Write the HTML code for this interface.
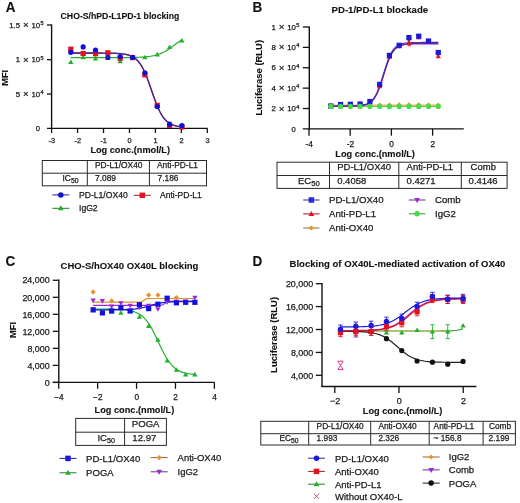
<!DOCTYPE html>
<html><head><meta charset="utf-8"><style>
html,body{margin:0;padding:0;background:#fff;}
svg{display:block;font-family:"Liberation Sans", sans-serif;will-change:transform;filter:blur(0.35px);}
</style></head><body>
<svg width="520" height="503" viewBox="0 0 520 503">
<rect width="520" height="503" fill="#fff"/>
<text x="0.00" y="0.00" font-size="13.5" font-weight="bold" text-anchor="start" fill="#111" stroke="#111" stroke-width="0.1" transform="translate(5.8 11.7) scale(1 1.08)">A</text>
<text x="60.60" y="19.30" font-size="8.7" font-weight="bold" text-anchor="start" fill="#111" stroke="#111" stroke-width="0.1" >CHO-S/hPD-L1PD-1 blocking</text>
<line x1="51.60" y1="24.40" x2="51.60" y2="129.00" stroke="#111" stroke-width="1.4" />
<line x1="47.00" y1="128.40" x2="207.60" y2="128.40" stroke="#111" stroke-width="1.4" />
<line x1="47.00" y1="25.00" x2="51.60" y2="25.00" stroke="#111" stroke-width="1.3" />
<text x="20.00" y="27.60" font-size="7.8" font-weight="normal" text-anchor="end" fill="#1a1a1a" stroke="#1a1a1a" stroke-width="0.25" >1.5</text>
<text x="25.90" y="27.90" font-size="9.75" font-weight="normal" text-anchor="middle" fill="#1a1a1a" stroke="#1a1a1a" stroke-width="0.25" >×</text>
<text x="40.10" y="27.60" font-size="7.8" font-weight="normal" text-anchor="end" fill="#1a1a1a" stroke="#1a1a1a" stroke-width="0.25" >10</text>
<text x="40.50" y="25.00" font-size="5.616" font-weight="normal" text-anchor="start" fill="#1a1a1a" stroke="#1a1a1a" stroke-width="0.25" >5</text>
<line x1="47.00" y1="59.70" x2="51.60" y2="59.70" stroke="#111" stroke-width="1.3" />
<text x="20.00" y="62.30" font-size="7.8" font-weight="normal" text-anchor="end" fill="#1a1a1a" stroke="#1a1a1a" stroke-width="0.25" >1</text>
<text x="25.90" y="62.60" font-size="9.75" font-weight="normal" text-anchor="middle" fill="#1a1a1a" stroke="#1a1a1a" stroke-width="0.25" >×</text>
<text x="40.10" y="62.30" font-size="7.8" font-weight="normal" text-anchor="end" fill="#1a1a1a" stroke="#1a1a1a" stroke-width="0.25" >10</text>
<text x="40.50" y="59.70" font-size="5.616" font-weight="normal" text-anchor="start" fill="#1a1a1a" stroke="#1a1a1a" stroke-width="0.25" >5</text>
<line x1="47.00" y1="94.05" x2="51.60" y2="94.05" stroke="#111" stroke-width="1.3" />
<text x="20.00" y="96.65" font-size="7.8" font-weight="normal" text-anchor="end" fill="#1a1a1a" stroke="#1a1a1a" stroke-width="0.25" >5</text>
<text x="25.90" y="96.95" font-size="9.75" font-weight="normal" text-anchor="middle" fill="#1a1a1a" stroke="#1a1a1a" stroke-width="0.25" >×</text>
<text x="40.10" y="96.65" font-size="7.8" font-weight="normal" text-anchor="end" fill="#1a1a1a" stroke="#1a1a1a" stroke-width="0.25" >10</text>
<text x="40.50" y="94.05" font-size="5.616" font-weight="normal" text-anchor="start" fill="#1a1a1a" stroke="#1a1a1a" stroke-width="0.25" >4</text>
<text x="40.00" y="131.00" font-size="7.6" font-weight="normal" text-anchor="end" fill="#1a1a1a" stroke="#1a1a1a" stroke-width="0.25" >0</text>
<line x1="51.60" y1="128.40" x2="51.60" y2="133.00" stroke="#111" stroke-width="1.3" />
<text x="51.80" y="143.00" font-size="7.4" font-weight="normal" text-anchor="middle" fill="#1a1a1a" stroke="#1a1a1a" stroke-width="0.25" >-3</text>
<line x1="77.55" y1="128.40" x2="77.55" y2="133.00" stroke="#111" stroke-width="1.3" />
<text x="77.75" y="143.00" font-size="7.4" font-weight="normal" text-anchor="middle" fill="#1a1a1a" stroke="#1a1a1a" stroke-width="0.25" >-2</text>
<line x1="103.50" y1="128.40" x2="103.50" y2="133.00" stroke="#111" stroke-width="1.3" />
<text x="103.70" y="143.00" font-size="7.4" font-weight="normal" text-anchor="middle" fill="#1a1a1a" stroke="#1a1a1a" stroke-width="0.25" >-1</text>
<line x1="129.45" y1="128.40" x2="129.45" y2="133.00" stroke="#111" stroke-width="1.3" />
<text x="129.65" y="143.00" font-size="7.4" font-weight="normal" text-anchor="middle" fill="#1a1a1a" stroke="#1a1a1a" stroke-width="0.25" >0</text>
<line x1="155.40" y1="128.40" x2="155.40" y2="133.00" stroke="#111" stroke-width="1.3" />
<text x="155.60" y="143.00" font-size="7.4" font-weight="normal" text-anchor="middle" fill="#1a1a1a" stroke="#1a1a1a" stroke-width="0.25" >1</text>
<line x1="181.35" y1="128.40" x2="181.35" y2="133.00" stroke="#111" stroke-width="1.3" />
<text x="181.55" y="143.00" font-size="7.4" font-weight="normal" text-anchor="middle" fill="#1a1a1a" stroke="#1a1a1a" stroke-width="0.25" >2</text>
<line x1="207.30" y1="128.40" x2="207.30" y2="133.00" stroke="#111" stroke-width="1.3" />
<text x="207.50" y="143.00" font-size="7.4" font-weight="normal" text-anchor="middle" fill="#1a1a1a" stroke="#1a1a1a" stroke-width="0.25" >3</text>
<text x="130.20" y="153.40" font-size="9.2" font-weight="bold" text-anchor="middle" fill="#111" stroke="#111" stroke-width="0.1" >Log conc.(nmol/L)</text>
<text x="0.00" y="0.00" font-size="9.3" font-weight="bold" text-anchor="middle" fill="#111" stroke="#111" stroke-width="0.1" transform="translate(7.8 77.85) rotate(-90)">MFI</text>
<path d="M70.80 57.70 L72.65 57.70 L74.50 57.70 L76.36 57.70 L78.21 57.70 L80.06 57.70 L81.91 57.70 L83.77 57.70 L85.62 57.70 L87.47 57.70 L89.32 57.70 L91.18 57.70 L93.03 57.70 L94.88 57.70 L96.73 57.70 L98.59 57.70 L100.44 57.70 L102.29 57.69 L104.14 57.69 L106.00 57.69 L107.85 57.69 L109.70 57.69 L111.55 57.68 L113.41 57.68 L115.26 57.67 L117.11 57.67 L118.96 57.66 L120.82 57.65 L122.67 57.64 L124.52 57.62 L126.38 57.60 L128.23 57.58 L130.08 57.55 L131.93 57.52 L133.78 57.47 L135.64 57.42 L137.49 57.36 L139.34 57.27 L141.19 57.18 L143.05 57.05 L144.90 56.90 L146.75 56.72 L148.60 56.50 L150.46 56.23 L152.31 55.90 L154.16 55.51 L156.01 55.05 L157.87 54.49 L159.72 53.84 L161.57 53.08 L163.43 52.22 L165.28 51.23 L167.13 50.14 L168.98 48.95 L170.83 47.67 L172.69 46.32 L174.54 44.94 L176.39 43.56 L178.25 42.20 L180.10 40.89 L181.95 39.66" stroke="#22b02a" stroke-width="1.2" fill="none" />
<path d="M70.80 53.20 L72.65 53.20 L74.50 53.20 L76.36 53.20 L78.21 53.20 L80.06 53.20 L81.91 53.20 L83.77 53.20 L85.62 53.20 L87.47 53.20 L89.32 53.20 L91.18 53.21 L93.03 53.21 L94.88 53.21 L96.73 53.21 L98.59 53.22 L100.44 53.22 L102.29 53.23 L104.14 53.24 L106.00 53.26 L107.85 53.28 L109.70 53.30 L111.55 53.34 L113.41 53.38 L115.26 53.45 L117.11 53.53 L118.96 53.64 L120.82 53.79 L122.67 53.98 L124.52 54.24 L126.38 54.59 L128.23 55.05 L130.08 55.65 L131.93 56.44 L133.78 57.47 L135.64 58.81 L137.49 60.51 L139.34 62.67 L141.19 65.35 L143.05 68.60 L144.90 72.45 L146.75 76.89 L148.60 81.81 L150.46 87.07 L152.31 92.47 L154.16 97.79 L156.01 102.80 L157.87 107.36 L159.72 111.35 L161.57 114.75 L163.43 117.55 L165.28 119.82 L167.13 121.63 L168.98 123.04 L170.83 124.14 L172.69 124.98 L174.54 125.63 L176.39 126.11 L178.25 126.48 L180.10 126.76 L181.95 126.97" stroke="#e8101c" stroke-width="1.2" fill="none" />
<path d="M70.80 53.00 L72.65 53.00 L74.50 53.00 L76.36 53.00 L78.21 53.00 L80.06 53.00 L81.91 53.00 L83.77 53.00 L85.62 53.00 L87.47 53.00 L89.32 53.00 L91.18 53.01 L93.03 53.01 L94.88 53.01 L96.73 53.01 L98.59 53.02 L100.44 53.02 L102.29 53.03 L104.14 53.04 L106.00 53.06 L107.85 53.08 L109.70 53.11 L111.55 53.14 L113.41 53.19 L115.26 53.25 L117.11 53.34 L118.96 53.45 L120.82 53.60 L122.67 53.81 L124.52 54.07 L126.38 54.43 L128.23 54.90 L130.08 55.52 L131.93 56.34 L133.78 57.40 L135.64 58.76 L137.49 60.51 L139.34 62.72 L141.19 65.45 L143.05 68.77 L144.90 72.68 L146.75 77.16 L148.60 82.12 L150.46 87.41 L152.31 92.80 L154.16 98.08 L156.01 103.05 L157.87 107.55 L159.72 111.47 L161.57 114.79 L163.43 117.54 L165.28 119.75 L167.13 121.51 L168.98 122.88 L170.83 123.95 L172.69 124.77 L174.54 125.39 L176.39 125.86 L178.25 126.22 L180.10 126.49 L181.95 126.69" stroke="#3a2a9a" stroke-width="1.3" fill="none" />
<path d="M70.80 59.56 L73.44 64.12 L68.16 64.12Z" fill="#22b02a"/>
<path d="M83.15 54.76 L85.79 59.32 L80.51 59.32Z" fill="#22b02a"/>
<path d="M95.50 56.06 L98.14 60.62 L92.86 60.62Z" fill="#22b02a"/>
<path d="M107.85 55.46 L110.49 60.02 L105.21 60.02Z" fill="#22b02a"/>
<path d="M120.20 58.76 L122.84 63.32 L117.56 63.32Z" fill="#22b02a"/>
<path d="M132.55 54.76 L135.19 59.32 L129.91 59.32Z" fill="#22b02a"/>
<path d="M144.90 54.66 L147.54 59.22 L142.26 59.22Z" fill="#22b02a"/>
<path d="M157.25 51.86 L159.89 56.42 L154.61 56.42Z" fill="#22b02a"/>
<path d="M169.60 44.46 L172.24 49.02 L166.96 49.02Z" fill="#22b02a"/>
<path d="M181.95 38.06 L184.59 42.62 L179.31 42.62Z" fill="#22b02a"/>
<rect x="68.20" y="46.60" width="5.20" height="5.20" fill="#e8101c"/>
<rect x="80.55" y="50.90" width="5.20" height="5.20" fill="#e8101c"/>
<rect x="92.90" y="51.20" width="5.20" height="5.20" fill="#e8101c"/>
<rect x="105.25" y="50.20" width="5.20" height="5.20" fill="#e8101c"/>
<rect x="117.60" y="55.60" width="5.20" height="5.20" fill="#e8101c"/>
<rect x="129.95" y="55.00" width="5.20" height="5.20" fill="#e8101c"/>
<rect x="142.30" y="72.30" width="5.20" height="5.20" fill="#e8101c"/>
<rect x="154.65" y="102.80" width="5.20" height="5.20" fill="#e8101c"/>
<rect x="167.00" y="122.80" width="5.20" height="5.20" fill="#e8101c"/>
<rect x="179.35" y="124.40" width="5.20" height="5.20" fill="#e8101c"/>
<circle cx="70.80" cy="52.30" r="2.60" fill="#1010d8"/>
<circle cx="83.15" cy="46.90" r="2.60" fill="#1010d8"/>
<circle cx="95.50" cy="50.00" r="2.60" fill="#1010d8"/>
<circle cx="107.85" cy="57.40" r="2.60" fill="#1010d8"/>
<circle cx="120.20" cy="56.60" r="2.60" fill="#1010d8"/>
<circle cx="132.55" cy="57.40" r="2.60" fill="#1010d8"/>
<circle cx="144.90" cy="72.80" r="2.60" fill="#1010d8"/>
<circle cx="157.25" cy="106.60" r="2.60" fill="#1010d8"/>
<circle cx="169.60" cy="124.20" r="2.60" fill="#1010d8"/>
<circle cx="181.95" cy="125.70" r="2.60" fill="#1010d8"/>
<rect x="42.30" y="160.50" width="164.20" height="25.30" fill="none" stroke="#2a2a2a" stroke-width="1.0"/>
<line x1="42.30" y1="173.20" x2="206.50" y2="173.20" stroke="#2a2a2a" stroke-width="1.0" />
<line x1="87.30" y1="160.50" x2="87.30" y2="185.80" stroke="#2a2a2a" stroke-width="1.0" />
<line x1="149.40" y1="160.50" x2="149.40" y2="185.80" stroke="#2a2a2a" stroke-width="1.0" />
<text x="95.00" y="168.20" font-size="8.4" font-weight="normal" text-anchor="start" fill="#1a1a1a" stroke="#1a1a1a" stroke-width="0.25" >PD-L1/OX40</text>
<text x="157.00" y="168.20" font-size="8.4" font-weight="normal" text-anchor="start" fill="#1a1a1a" stroke="#1a1a1a" stroke-width="0.25" >Anti-PD-L1</text>
<text x="62.50" y="180.90" font-size="8.4" font-weight="normal" text-anchor="start" fill="#1a1a1a" stroke="#1a1a1a" stroke-width="0.25" >IC<tspan font-size="6.8" dy="2.5">50</tspan></text>
<text x="95.00" y="180.70" font-size="8.4" font-weight="normal" text-anchor="start" fill="#1a1a1a" stroke="#1a1a1a" stroke-width="0.25" >7.089</text>
<text x="157.50" y="180.70" font-size="8.4" font-weight="normal" text-anchor="start" fill="#1a1a1a" stroke="#1a1a1a" stroke-width="0.25" >7.186</text>
<line x1="52.30" y1="194.90" x2="69.30" y2="194.90" stroke="#1e1e8c" stroke-width="1.0" />
<circle cx="60.80" cy="194.90" r="2.75" fill="#1010d8"/>
<text x="79.00" y="198.00" font-size="8.6" font-weight="normal" text-anchor="start" fill="#1a1a1a" stroke="#1a1a1a" stroke-width="0.25" >PD-L1/OX40</text>
<line x1="133.80" y1="195.30" x2="150.80" y2="195.30" stroke="#951e25" stroke-width="1.0" />
<rect x="139.55" y="192.55" width="5.50" height="5.50" fill="#e8101c"/>
<text x="160.10" y="198.36" font-size="8.5" font-weight="normal" text-anchor="start" fill="#1a1a1a" stroke="#1a1a1a" stroke-width="0.25" >Anti-PD-L1</text>
<line x1="52.30" y1="208.30" x2="69.30" y2="208.30" stroke="#28762d" stroke-width="1.0" />
<path d="M60.80 205.32 L63.67 210.29 L57.93 210.29Z" fill="#22b02a"/>
<text x="79.00" y="211.40" font-size="8.6" font-weight="normal" text-anchor="start" fill="#1a1a1a" stroke="#1a1a1a" stroke-width="0.25" >IgG2</text>
<text x="0.00" y="0.00" font-size="13.5" font-weight="bold" text-anchor="start" fill="#111" stroke="#111" stroke-width="0.1" transform="translate(252.5 11.7) scale(1 1.08)">B</text>
<text x="331.60" y="12.60" font-size="9.6" font-weight="bold" text-anchor="start" fill="#111" stroke="#111" stroke-width="0.1" >PD-1/PD-L1 blockade</text>
<line x1="309.30" y1="26.40" x2="309.30" y2="129.50" stroke="#111" stroke-width="1.4" />
<line x1="302.80" y1="128.90" x2="463.80" y2="128.90" stroke="#111" stroke-width="1.4" />
<line x1="302.80" y1="27.00" x2="309.30" y2="27.00" stroke="#111" stroke-width="1.3" />
<text x="275.80" y="29.70" font-size="7.8" font-weight="normal" text-anchor="end" fill="#1a1a1a" stroke="#1a1a1a" stroke-width="0.25" >1</text>
<text x="281.70" y="30.00" font-size="9.75" font-weight="normal" text-anchor="middle" fill="#1a1a1a" stroke="#1a1a1a" stroke-width="0.25" >×</text>
<text x="295.90" y="29.70" font-size="7.8" font-weight="normal" text-anchor="end" fill="#1a1a1a" stroke="#1a1a1a" stroke-width="0.25" >10</text>
<text x="296.30" y="27.10" font-size="5.616" font-weight="normal" text-anchor="start" fill="#1a1a1a" stroke="#1a1a1a" stroke-width="0.25" >5</text>
<line x1="302.80" y1="47.38" x2="309.30" y2="47.38" stroke="#111" stroke-width="1.3" />
<text x="275.80" y="50.08" font-size="7.8" font-weight="normal" text-anchor="end" fill="#1a1a1a" stroke="#1a1a1a" stroke-width="0.25" >8</text>
<text x="281.70" y="50.38" font-size="9.75" font-weight="normal" text-anchor="middle" fill="#1a1a1a" stroke="#1a1a1a" stroke-width="0.25" >×</text>
<text x="295.90" y="50.08" font-size="7.8" font-weight="normal" text-anchor="end" fill="#1a1a1a" stroke="#1a1a1a" stroke-width="0.25" >10</text>
<text x="296.30" y="47.48" font-size="5.616" font-weight="normal" text-anchor="start" fill="#1a1a1a" stroke="#1a1a1a" stroke-width="0.25" >4</text>
<line x1="302.80" y1="67.76" x2="309.30" y2="67.76" stroke="#111" stroke-width="1.3" />
<text x="275.80" y="70.46" font-size="7.8" font-weight="normal" text-anchor="end" fill="#1a1a1a" stroke="#1a1a1a" stroke-width="0.25" >6</text>
<text x="281.70" y="70.76" font-size="9.75" font-weight="normal" text-anchor="middle" fill="#1a1a1a" stroke="#1a1a1a" stroke-width="0.25" >×</text>
<text x="295.90" y="70.46" font-size="7.8" font-weight="normal" text-anchor="end" fill="#1a1a1a" stroke="#1a1a1a" stroke-width="0.25" >10</text>
<text x="296.30" y="67.86" font-size="5.616" font-weight="normal" text-anchor="start" fill="#1a1a1a" stroke="#1a1a1a" stroke-width="0.25" >4</text>
<line x1="302.80" y1="88.14" x2="309.30" y2="88.14" stroke="#111" stroke-width="1.3" />
<text x="275.80" y="90.84" font-size="7.8" font-weight="normal" text-anchor="end" fill="#1a1a1a" stroke="#1a1a1a" stroke-width="0.25" >4</text>
<text x="281.70" y="91.14" font-size="9.75" font-weight="normal" text-anchor="middle" fill="#1a1a1a" stroke="#1a1a1a" stroke-width="0.25" >×</text>
<text x="295.90" y="90.84" font-size="7.8" font-weight="normal" text-anchor="end" fill="#1a1a1a" stroke="#1a1a1a" stroke-width="0.25" >10</text>
<text x="296.30" y="88.24" font-size="5.616" font-weight="normal" text-anchor="start" fill="#1a1a1a" stroke="#1a1a1a" stroke-width="0.25" >4</text>
<line x1="302.80" y1="108.52" x2="309.30" y2="108.52" stroke="#111" stroke-width="1.3" />
<text x="275.80" y="111.22" font-size="7.8" font-weight="normal" text-anchor="end" fill="#1a1a1a" stroke="#1a1a1a" stroke-width="0.25" >2</text>
<text x="281.70" y="111.52" font-size="9.75" font-weight="normal" text-anchor="middle" fill="#1a1a1a" stroke="#1a1a1a" stroke-width="0.25" >×</text>
<text x="295.90" y="111.22" font-size="7.8" font-weight="normal" text-anchor="end" fill="#1a1a1a" stroke="#1a1a1a" stroke-width="0.25" >10</text>
<text x="296.30" y="108.62" font-size="5.616" font-weight="normal" text-anchor="start" fill="#1a1a1a" stroke="#1a1a1a" stroke-width="0.25" >4</text>
<text x="295.80" y="131.60" font-size="7.6" font-weight="normal" text-anchor="end" fill="#1a1a1a" stroke="#1a1a1a" stroke-width="0.25" >0</text>
<line x1="309.00" y1="128.90" x2="309.00" y2="135.70" stroke="#111" stroke-width="1.3" />
<text x="309.20" y="146.80" font-size="8.4" font-weight="normal" text-anchor="middle" fill="#1a1a1a" stroke="#1a1a1a" stroke-width="0.25" >-4</text>
<line x1="350.20" y1="128.90" x2="350.20" y2="135.70" stroke="#111" stroke-width="1.3" />
<text x="350.40" y="146.80" font-size="8.4" font-weight="normal" text-anchor="middle" fill="#1a1a1a" stroke="#1a1a1a" stroke-width="0.25" >-2</text>
<line x1="391.40" y1="128.90" x2="391.40" y2="135.70" stroke="#111" stroke-width="1.3" />
<text x="391.60" y="146.80" font-size="8.4" font-weight="normal" text-anchor="middle" fill="#1a1a1a" stroke="#1a1a1a" stroke-width="0.25" >0</text>
<line x1="432.60" y1="128.90" x2="432.60" y2="135.70" stroke="#111" stroke-width="1.3" />
<text x="432.80" y="146.80" font-size="8.4" font-weight="normal" text-anchor="middle" fill="#1a1a1a" stroke="#1a1a1a" stroke-width="0.25" >2</text>
<text x="335.30" y="156.80" font-size="9.2" font-weight="bold" text-anchor="start" fill="#111" stroke="#111" stroke-width="0.1" >Log conc.(nmol/L)</text>
<text x="0.00" y="0.00" font-size="9.45" font-weight="bold" text-anchor="middle" fill="#111" stroke="#111" stroke-width="0.1" transform="translate(261.8 77.7) rotate(-90)">Luciferase (RLU)</text>
<line x1="330.80" y1="105.20" x2="438.27" y2="105.20" stroke="#e8902a" stroke-width="1.0" />
<line x1="330.80" y1="106.40" x2="438.27" y2="106.40" stroke="#44dd44" stroke-width="1.0" />
<path d="M330.80 106.20 L332.59 106.20 L334.38 106.20 L336.17 106.20 L337.96 106.20 L339.76 106.19 L341.55 106.19 L343.34 106.19 L345.13 106.18 L346.92 106.17 L348.71 106.16 L350.50 106.14 L352.29 106.11 L354.09 106.07 L355.88 106.01 L357.67 105.92 L359.46 105.79 L361.25 105.61 L363.04 105.35 L364.83 104.98 L366.62 104.45 L368.41 103.70 L370.21 102.64 L372.00 101.17 L373.79 99.17 L375.58 96.50 L377.37 93.06 L379.16 88.80 L380.95 83.79 L382.74 78.22 L384.53 72.42 L386.33 66.78 L388.12 61.65 L389.91 57.24 L391.70 53.66 L393.49 50.86 L395.28 48.75 L397.07 47.19 L398.86 46.07 L400.66 45.27 L402.45 44.70 L404.24 44.30 L406.03 44.03 L407.82 43.83 L409.61 43.70 L411.40 43.61 L413.19 43.54 L414.98 43.50 L416.78 43.47 L418.57 43.45 L420.36 43.43 L422.15 43.42 L423.94 43.42 L425.73 43.41 L427.52 43.41 L429.31 43.41 L431.11 43.40 L432.90 43.40 L434.69 43.40 L436.48 43.40 L438.27 43.40" stroke="#e8101c" stroke-width="1.1" fill="none" />
<path d="M330.80 106.00 L332.59 106.00 L334.38 106.00 L336.17 106.00 L337.96 105.99 L339.76 105.99 L341.55 105.99 L343.34 105.98 L345.13 105.98 L346.92 105.97 L348.71 105.95 L350.50 105.93 L352.29 105.90 L354.09 105.85 L355.88 105.79 L357.67 105.69 L359.46 105.55 L361.25 105.35 L363.04 105.07 L364.83 104.66 L366.62 104.08 L368.41 103.26 L370.21 102.10 L372.00 100.50 L373.79 98.34 L375.58 95.47 L377.37 91.80 L379.16 87.31 L380.95 82.08 L382.74 76.35 L384.53 70.49 L386.33 64.86 L388.12 59.81 L389.91 55.54 L391.70 52.09 L393.49 49.42 L395.28 47.42 L397.07 45.95 L398.86 44.90 L400.66 44.14 L402.45 43.62 L404.24 43.24 L406.03 42.99 L407.82 42.81 L409.61 42.68 L411.40 42.59 L413.19 42.53 L414.98 42.49 L416.78 42.46 L418.57 42.44 L420.36 42.43 L422.15 42.42 L423.94 42.41 L425.73 42.41 L427.52 42.41 L429.31 42.40 L431.11 42.40 L432.90 42.40 L434.69 42.40 L436.48 42.40 L438.27 42.40" stroke="#3232d8" stroke-width="1.1" fill="none" />
<path d="M330.80 106.20 L332.59 106.20 L334.38 106.20 L336.17 106.20 L337.96 106.19 L339.76 106.19 L341.55 106.19 L343.34 106.18 L345.13 106.18 L346.92 106.17 L348.71 106.15 L350.50 106.13 L352.29 106.10 L354.09 106.06 L355.88 105.99 L357.67 105.90 L359.46 105.77 L361.25 105.58 L363.04 105.31 L364.83 104.91 L366.62 104.36 L368.41 103.56 L370.21 102.45 L372.00 100.92 L373.79 98.83 L375.58 96.06 L377.37 92.51 L379.16 88.16 L380.95 83.07 L382.74 77.48 L384.53 71.73 L386.33 66.20 L388.12 61.21 L389.91 56.98 L391.70 53.56 L393.49 50.91 L395.28 48.91 L397.07 47.45 L398.86 46.39 L400.66 45.64 L402.45 45.11 L404.24 44.74 L406.03 44.48 L407.82 44.31 L409.61 44.18 L411.40 44.09 L413.19 44.03 L414.98 43.99 L416.78 43.96 L418.57 43.94 L420.36 43.93 L422.15 43.92 L423.94 43.91 L425.73 43.91 L427.52 43.91 L429.31 43.90 L431.11 43.90 L432.90 43.90 L434.69 43.90 L436.48 43.90 L438.27 43.90" stroke="#5a2aa8" stroke-width="1.1" fill="none" />
<path d="M330.80 103.00 L333.40 105.60 L330.80 108.20 L328.20 105.60Z" fill="#e8902a"/>
<path d="M340.57 102.90 L343.17 105.50 L340.57 108.10 L337.97 105.50Z" fill="#e8902a"/>
<path d="M350.34 102.80 L352.94 105.40 L350.34 108.00 L347.74 105.40Z" fill="#e8902a"/>
<path d="M360.11 102.80 L362.71 105.40 L360.11 108.00 L357.51 105.40Z" fill="#e8902a"/>
<path d="M369.88 102.70 L372.48 105.30 L369.88 107.90 L367.28 105.30Z" fill="#e8902a"/>
<path d="M379.65 102.60 L382.25 105.20 L379.65 107.80 L377.05 105.20Z" fill="#e8902a"/>
<path d="M389.42 102.40 L392.02 105.00 L389.42 107.60 L386.82 105.00Z" fill="#e8902a"/>
<path d="M399.19 102.20 L401.79 104.80 L399.19 107.40 L396.59 104.80Z" fill="#e8902a"/>
<path d="M408.96 102.20 L411.56 104.80 L408.96 107.40 L406.36 104.80Z" fill="#e8902a"/>
<path d="M418.73 102.20 L421.33 104.80 L418.73 107.40 L416.13 104.80Z" fill="#e8902a"/>
<path d="M428.50 102.40 L431.10 105.00 L428.50 107.60 L425.90 105.00Z" fill="#e8902a"/>
<path d="M438.27 102.60 L440.87 105.20 L438.27 107.80 L435.67 105.20Z" fill="#e8902a"/>
<path d="M330.80 109.34 L333.44 104.78 L328.16 104.78Z" fill="#9a2ad8"/>
<path d="M340.57 108.54 L343.21 103.98 L337.93 103.98Z" fill="#9a2ad8"/>
<path d="M350.34 108.54 L352.98 103.98 L347.70 103.98Z" fill="#9a2ad8"/>
<path d="M360.11 108.14 L362.75 103.58 L357.47 103.58Z" fill="#9a2ad8"/>
<path d="M369.88 106.14 L372.52 101.58 L367.24 101.58Z" fill="#9a2ad8"/>
<path d="M379.65 88.74 L382.29 84.18 L377.01 84.18Z" fill="#9a2ad8"/>
<path d="M389.42 58.74 L392.06 54.18 L386.78 54.18Z" fill="#9a2ad8"/>
<path d="M399.19 48.74 L401.83 44.18 L396.55 44.18Z" fill="#9a2ad8"/>
<path d="M408.96 42.74 L411.60 38.18 L406.32 38.18Z" fill="#9a2ad8"/>
<path d="M418.73 39.74 L421.37 35.18 L416.09 35.18Z" fill="#9a2ad8"/>
<path d="M428.50 44.24 L431.14 39.68 L425.86 39.68Z" fill="#9a2ad8"/>
<path d="M438.27 56.74 L440.91 52.18 L435.63 52.18Z" fill="#9a2ad8"/>
<path d="M330.80 103.66 L333.44 108.22 L328.16 108.22Z" fill="#e8101c"/>
<path d="M340.57 102.76 L343.21 107.32 L337.93 107.32Z" fill="#e8101c"/>
<path d="M350.34 102.76 L352.98 107.32 L347.70 107.32Z" fill="#e8101c"/>
<path d="M360.11 102.26 L362.75 106.82 L357.47 106.82Z" fill="#e8101c"/>
<path d="M369.88 100.26 L372.52 104.82 L367.24 104.82Z" fill="#e8101c"/>
<path d="M379.65 83.66 L382.29 88.22 L377.01 88.22Z" fill="#e8101c"/>
<path d="M389.42 54.26 L392.06 58.82 L386.78 58.82Z" fill="#e8101c"/>
<path d="M399.19 43.76 L401.83 48.32 L396.55 48.32Z" fill="#e8101c"/>
<path d="M408.96 39.66 L411.60 44.22 L406.32 44.22Z" fill="#e8101c"/>
<path d="M418.73 34.76 L421.37 39.32 L416.09 39.32Z" fill="#e8101c"/>
<path d="M428.50 39.06 L431.14 43.62 L425.86 43.62Z" fill="#e8101c"/>
<path d="M438.27 53.66 L440.91 58.22 L435.63 58.22Z" fill="#e8101c"/>
<line x1="409.20" y1="42.40" x2="409.20" y2="45.80" stroke="#e8101c" stroke-width="0.9" />
<line x1="407.40" y1="45.80" x2="411.00" y2="45.80" stroke="#e8101c" stroke-width="0.9" />
<rect x="328.20" y="103.40" width="5.20" height="5.20" fill="#1a1ad8"/>
<rect x="337.97" y="101.90" width="5.20" height="5.20" fill="#1a1ad8"/>
<rect x="347.74" y="101.70" width="5.20" height="5.20" fill="#1a1ad8"/>
<rect x="357.51" y="101.40" width="5.20" height="5.20" fill="#1a1ad8"/>
<rect x="367.28" y="98.90" width="5.20" height="5.20" fill="#1a1ad8"/>
<rect x="377.05" y="81.80" width="5.20" height="5.20" fill="#1a1ad8"/>
<rect x="386.82" y="52.80" width="5.20" height="5.20" fill="#1a1ad8"/>
<rect x="396.59" y="42.70" width="5.20" height="5.20" fill="#1a1ad8"/>
<rect x="406.36" y="35.00" width="5.20" height="5.20" fill="#1a1ad8"/>
<rect x="416.13" y="33.60" width="5.20" height="5.20" fill="#1a1ad8"/>
<rect x="425.90" y="38.40" width="5.20" height="5.20" fill="#1a1ad8"/>
<rect x="435.67" y="49.90" width="5.20" height="5.20" fill="#1a1ad8"/>
<circle cx="330.80" cy="106.40" r="2.60" fill="#44dd44"/>
<circle cx="340.57" cy="106.40" r="2.60" fill="#44dd44"/>
<circle cx="350.34" cy="106.40" r="2.60" fill="#44dd44"/>
<circle cx="360.11" cy="106.40" r="2.60" fill="#44dd44"/>
<circle cx="369.88" cy="106.40" r="2.60" fill="#44dd44"/>
<circle cx="379.65" cy="106.40" r="2.60" fill="#44dd44"/>
<circle cx="389.42" cy="106.40" r="2.60" fill="#44dd44"/>
<circle cx="399.19" cy="106.40" r="2.60" fill="#44dd44"/>
<circle cx="408.96" cy="106.40" r="2.60" fill="#44dd44"/>
<circle cx="418.73" cy="106.40" r="2.60" fill="#44dd44"/>
<circle cx="428.50" cy="106.40" r="2.60" fill="#44dd44"/>
<circle cx="438.27" cy="106.40" r="2.60" fill="#44dd44"/>
<rect x="277.00" y="162.20" width="230.10" height="26.20" fill="none" stroke="#2a2a2a" stroke-width="1.0"/>
<line x1="277.00" y1="175.50" x2="507.10" y2="175.50" stroke="#2a2a2a" stroke-width="1.0" />
<line x1="329.50" y1="162.20" x2="329.50" y2="188.40" stroke="#2a2a2a" stroke-width="1.0" />
<line x1="398.80" y1="162.20" x2="398.80" y2="188.40" stroke="#2a2a2a" stroke-width="1.0" />
<line x1="461.30" y1="162.20" x2="461.30" y2="188.40" stroke="#2a2a2a" stroke-width="1.0" />
<text x="337.20" y="170.40" font-size="9.5" font-weight="normal" text-anchor="start" fill="#1a1a1a" stroke="#1a1a1a" stroke-width="0.25" >PD-L1/OX40</text>
<text x="406.60" y="170.40" font-size="9.5" font-weight="normal" text-anchor="start" fill="#1a1a1a" stroke="#1a1a1a" stroke-width="0.25" >Anti-PD-L1</text>
<text x="470.60" y="170.40" font-size="9.5" font-weight="normal" text-anchor="start" fill="#1a1a1a" stroke="#1a1a1a" stroke-width="0.25" >Comb</text>
<text x="298.00" y="183.60" font-size="9.5" font-weight="normal" text-anchor="start" fill="#1a1a1a" stroke="#1a1a1a" stroke-width="0.25" >EC<tspan font-size="7.6" dy="2.8">50</tspan></text>
<text x="337.20" y="183.60" font-size="9.5" font-weight="normal" text-anchor="start" fill="#1a1a1a" stroke="#1a1a1a" stroke-width="0.25" >0.4058</text>
<text x="406.60" y="183.60" font-size="9.5" font-weight="normal" text-anchor="start" fill="#1a1a1a" stroke="#1a1a1a" stroke-width="0.25" >0.4271</text>
<text x="468.60" y="183.60" font-size="9.5" font-weight="normal" text-anchor="start" fill="#1a1a1a" stroke="#1a1a1a" stroke-width="0.25" >0.4146</text>
<line x1="303.20" y1="200.00" x2="319.50" y2="200.00" stroke="#2d2d8c" stroke-width="1.0" />
<rect x="308.60" y="197.25" width="5.50" height="5.50" fill="#2a2ad8"/>
<text x="329.00" y="203.47" font-size="9.65" font-weight="normal" text-anchor="start" fill="#1a1a1a" stroke="#1a1a1a" stroke-width="0.25" >PD-L1/OX40</text>
<line x1="303.20" y1="213.90" x2="319.50" y2="213.90" stroke="#951e25" stroke-width="1.0" />
<path d="M311.35 210.92 L314.22 215.89 L308.48 215.89Z" fill="#e8101c"/>
<text x="329.00" y="217.37" font-size="9.65" font-weight="normal" text-anchor="start" fill="#1a1a1a" stroke="#1a1a1a" stroke-width="0.25" >Anti-PD-L1</text>
<line x1="303.20" y1="228.00" x2="319.50" y2="228.00" stroke="#95652d" stroke-width="1.0" />
<path d="M311.35 225.39 L313.96 228.00 L311.35 230.61 L308.74 228.00Z" fill="#e8902a"/>
<text x="329.00" y="231.47" font-size="9.65" font-weight="normal" text-anchor="start" fill="#1a1a1a" stroke="#1a1a1a" stroke-width="0.25" >Anti-OX40</text>
<line x1="408.80" y1="200.00" x2="425.40" y2="200.00" stroke="#6a2d8c" stroke-width="1.0" />
<path d="M417.10 202.98 L419.97 198.01 L414.23 198.01Z" fill="#9a2ad8"/>
<text x="435.00" y="203.47" font-size="9.65" font-weight="normal" text-anchor="start" fill="#1a1a1a" stroke="#1a1a1a" stroke-width="0.25" >Comb</text>
<line x1="408.80" y1="213.80" x2="425.40" y2="213.80" stroke="#3b8f3b" stroke-width="1.0" />
<circle cx="417.10" cy="213.80" r="2.75" fill="#44dd44"/>
<text x="435.00" y="217.27" font-size="9.65" font-weight="normal" text-anchor="start" fill="#1a1a1a" stroke="#1a1a1a" stroke-width="0.25" >IgG2</text>
<text x="0.00" y="0.00" font-size="13.5" font-weight="bold" text-anchor="start" fill="#111" stroke="#111" stroke-width="0.1" transform="translate(5.6 266.0) scale(1 1.08)">C</text>
<text x="60.60" y="268.60" font-size="9.52" font-weight="bold" text-anchor="start" fill="#111" stroke="#111" stroke-width="0.1" >CHO-S/hOX40 OX40L blocking</text>
<line x1="58.80" y1="279.60" x2="58.80" y2="383.00" stroke="#111" stroke-width="1.4" />
<line x1="52.80" y1="382.40" x2="214.60" y2="382.40" stroke="#111" stroke-width="1.4" />
<line x1="52.80" y1="280.28" x2="58.80" y2="280.28" stroke="#111" stroke-width="1.3" />
<text x="49.60" y="283.48" font-size="8.9" font-weight="normal" text-anchor="end" fill="#1a1a1a" stroke="#1a1a1a" stroke-width="0.25" >24,000</text>
<line x1="52.80" y1="297.30" x2="58.80" y2="297.30" stroke="#111" stroke-width="1.3" />
<text x="49.60" y="300.50" font-size="8.9" font-weight="normal" text-anchor="end" fill="#1a1a1a" stroke="#1a1a1a" stroke-width="0.25" >20,000</text>
<line x1="52.80" y1="314.32" x2="58.80" y2="314.32" stroke="#111" stroke-width="1.3" />
<text x="49.60" y="317.52" font-size="8.9" font-weight="normal" text-anchor="end" fill="#1a1a1a" stroke="#1a1a1a" stroke-width="0.25" >16,000</text>
<line x1="52.80" y1="331.34" x2="58.80" y2="331.34" stroke="#111" stroke-width="1.3" />
<text x="49.60" y="334.54" font-size="8.9" font-weight="normal" text-anchor="end" fill="#1a1a1a" stroke="#1a1a1a" stroke-width="0.25" >12,000</text>
<line x1="52.80" y1="348.36" x2="58.80" y2="348.36" stroke="#111" stroke-width="1.3" />
<text x="49.60" y="351.56" font-size="8.9" font-weight="normal" text-anchor="end" fill="#1a1a1a" stroke="#1a1a1a" stroke-width="0.25" >8,000</text>
<line x1="52.80" y1="365.38" x2="58.80" y2="365.38" stroke="#111" stroke-width="1.3" />
<text x="49.60" y="368.58" font-size="8.9" font-weight="normal" text-anchor="end" fill="#1a1a1a" stroke="#1a1a1a" stroke-width="0.25" >4,000</text>
<line x1="52.80" y1="382.40" x2="58.80" y2="382.40" stroke="#111" stroke-width="1.3" />
<text x="49.60" y="385.60" font-size="8.9" font-weight="normal" text-anchor="end" fill="#1a1a1a" stroke="#1a1a1a" stroke-width="0.25" >0</text>
<line x1="58.71" y1="382.40" x2="58.71" y2="388.80" stroke="#111" stroke-width="1.3" />
<text x="58.91" y="399.50" font-size="8.3" font-weight="normal" text-anchor="middle" fill="#1a1a1a" stroke="#1a1a1a" stroke-width="0.25" >−4</text>
<line x1="97.63" y1="382.40" x2="97.63" y2="388.80" stroke="#111" stroke-width="1.3" />
<text x="97.83" y="399.50" font-size="8.3" font-weight="normal" text-anchor="middle" fill="#1a1a1a" stroke="#1a1a1a" stroke-width="0.25" >−2</text>
<line x1="136.55" y1="382.40" x2="136.55" y2="388.80" stroke="#111" stroke-width="1.3" />
<text x="136.75" y="399.50" font-size="8.3" font-weight="normal" text-anchor="middle" fill="#1a1a1a" stroke="#1a1a1a" stroke-width="0.25" >0</text>
<line x1="175.47" y1="382.40" x2="175.47" y2="388.80" stroke="#111" stroke-width="1.3" />
<text x="175.67" y="399.50" font-size="8.3" font-weight="normal" text-anchor="middle" fill="#1a1a1a" stroke="#1a1a1a" stroke-width="0.25" >2</text>
<line x1="214.39" y1="382.40" x2="214.39" y2="388.80" stroke="#111" stroke-width="1.3" />
<text x="214.59" y="399.50" font-size="8.3" font-weight="normal" text-anchor="middle" fill="#1a1a1a" stroke="#1a1a1a" stroke-width="0.25" >4</text>
<text x="134.40" y="413.20" font-size="9.2" font-weight="bold" text-anchor="middle" fill="#111" stroke="#111" stroke-width="0.1" >Log conc.(nmol/L)</text>
<text x="0.00" y="0.00" font-size="9.4" font-weight="bold" text-anchor="middle" fill="#111" stroke="#111" stroke-width="0.1" transform="translate(16.0 330.0) rotate(-90)">MFI</text>
<path d="M93.15 302.20 L94.85 302.20 L96.54 302.20 L98.24 302.20 L99.93 302.20 L101.63 302.20 L103.33 302.20 L105.02 302.20 L106.72 302.20 L108.41 302.20 L110.11 302.20 L111.80 302.20 L113.50 302.20 L115.20 302.20 L116.89 302.20 L118.59 302.20 L120.28 302.20 L121.98 302.20 L123.68 302.20 L125.37 302.20 L127.07 302.20 L128.76 302.20 L130.46 302.20 L132.15 302.20 L133.85 302.20 L135.55 302.20 L137.24 302.19 L138.94 302.17 L140.63 302.05 L142.33 301.57 L144.03 300.33 L145.72 299.11 L147.42 298.64 L149.11 298.53 L150.81 298.51 L152.50 298.50 L154.20 298.50 L155.90 298.50 L157.59 298.50 L159.29 298.50 L160.98 298.50 L162.68 298.50 L164.38 298.50 L166.07 298.50 L167.77 298.50 L169.46 298.50 L171.16 298.50 L172.85 298.50 L174.55 298.50 L176.25 298.50 L177.94 298.50 L179.64 298.50 L181.33 298.50 L183.03 298.50 L184.73 298.50 L186.42 298.50 L188.12 298.50 L189.81 298.50 L191.51 298.50 L193.20 298.50 L194.90 298.50" stroke="#e8902a" stroke-width="1.2" fill="none" />
<path d="M93.15 305.40 L94.85 305.40 L96.54 305.40 L98.24 305.40 L99.93 305.40 L101.63 305.40 L103.33 305.40 L105.02 305.40 L106.72 305.40 L108.41 305.40 L110.11 305.40 L111.80 305.40 L113.50 305.40 L115.20 305.40 L116.89 305.40 L118.59 305.40 L120.28 305.40 L121.98 305.40 L123.68 305.40 L125.37 305.40 L127.07 305.40 L128.76 305.40 L130.46 305.40 L132.15 305.40 L133.85 305.40 L135.55 305.40 L137.24 305.40 L138.94 305.40 L140.63 305.40 L142.33 305.40 L144.03 305.40 L145.72 305.40 L147.42 305.40 L149.11 305.40 L150.81 305.40 L152.50 305.40 L154.20 305.40 L155.90 305.39 L157.59 305.38 L159.29 305.33 L160.98 305.17 L162.68 304.72 L164.38 303.76 L166.07 302.54 L167.77 301.72 L169.46 301.37 L171.16 301.25 L172.85 301.22 L174.55 301.20 L176.25 301.20 L177.94 301.20 L179.64 301.20 L181.33 301.20 L183.03 301.20 L184.73 301.20 L186.42 301.20 L188.12 301.20 L189.81 301.20 L191.51 301.20 L193.20 301.20 L194.90 301.20" stroke="#9a2ad8" stroke-width="1.2" fill="none" />
<path d="M93.15 309.01 L94.85 309.02 L96.54 309.02 L98.24 309.03 L99.93 309.03 L101.63 309.04 L103.33 309.05 L105.02 309.06 L106.72 309.08 L108.41 309.10 L110.11 309.12 L111.80 309.15 L113.50 309.19 L115.20 309.24 L116.89 309.30 L118.59 309.37 L120.28 309.46 L121.98 309.57 L123.68 309.71 L125.37 309.88 L127.07 310.10 L128.76 310.37 L130.46 310.69 L132.15 311.10 L133.85 311.60 L135.55 312.21 L137.24 312.95 L138.94 313.86 L140.63 314.95 L142.33 316.25 L144.03 317.81 L145.72 319.63 L147.42 321.75 L149.11 324.17 L150.81 326.90 L152.50 329.93 L154.20 333.20 L155.90 336.67 L157.59 340.27 L159.29 343.90 L160.98 347.50 L162.68 350.96 L164.38 354.22 L166.07 357.23 L167.77 359.95 L169.46 362.36 L171.16 364.46 L172.85 366.27 L174.55 367.81 L176.25 369.11 L177.94 370.19 L179.64 371.09 L181.33 371.82 L183.03 372.43 L184.73 372.92 L186.42 373.32 L188.12 373.65 L189.81 373.91 L191.51 374.12 L193.20 374.30 L194.90 374.43" stroke="#22b02a" stroke-width="1.2" fill="none" />
<path d="M93.15 309.80 L94.85 309.80 L96.54 309.80 L98.24 309.79 L99.93 309.79 L101.63 309.79 L103.33 309.79 L105.02 309.79 L106.72 309.78 L108.41 309.78 L110.11 309.77 L111.80 309.76 L113.50 309.75 L115.20 309.74 L116.89 309.73 L118.59 309.71 L120.28 309.68 L121.98 309.65 L123.68 309.61 L125.37 309.56 L127.07 309.49 L128.76 309.41 L130.46 309.31 L132.15 309.19 L133.85 309.04 L135.55 308.86 L137.24 308.63 L138.94 308.37 L140.63 308.06 L142.33 307.71 L144.03 307.31 L145.72 306.87 L147.42 306.40 L149.11 305.91 L150.81 305.41 L152.50 304.92 L154.20 304.45 L155.90 304.01 L157.59 303.61 L159.29 303.25 L160.98 302.94 L162.68 302.68 L164.38 302.45 L166.07 302.27 L167.77 302.12 L169.46 301.99 L171.16 301.89 L172.85 301.81 L174.55 301.75 L176.25 301.70 L177.94 301.65 L179.64 301.62 L181.33 301.60 L183.03 301.58 L184.73 301.56 L186.42 301.55 L188.12 301.54 L189.81 301.53 L191.51 301.52 L193.20 301.52 L194.90 301.51" stroke="#1a1ad8" stroke-width="1.3" fill="none" />
<path d="M93.15 289.30 L95.75 291.90 L93.15 294.50 L90.55 291.90Z" fill="#e8902a"/>
<path d="M111.65 298.30 L114.25 300.90 L111.65 303.50 L109.05 300.90Z" fill="#e8902a"/>
<path d="M148.65 292.50 L151.25 295.10 L148.65 297.70 L146.05 295.10Z" fill="#e8902a"/>
<path d="M157.90 292.50 L160.50 295.10 L157.90 297.70 L155.30 295.10Z" fill="#e8902a"/>
<path d="M176.40 295.00 L179.00 297.60 L176.40 300.20 L173.80 297.60Z" fill="#e8902a"/>
<path d="M93.15 303.14 L95.79 298.58 L90.51 298.58Z" fill="#9a2ad8"/>
<path d="M102.40 303.64 L105.04 299.08 L99.76 299.08Z" fill="#9a2ad8"/>
<path d="M111.65 308.94 L114.29 304.38 L109.01 304.38Z" fill="#9a2ad8"/>
<path d="M120.90 305.74 L123.54 301.18 L118.26 301.18Z" fill="#9a2ad8"/>
<path d="M130.15 308.24 L132.79 303.68 L127.51 303.68Z" fill="#9a2ad8"/>
<path d="M139.40 310.34 L142.04 305.78 L136.76 305.78Z" fill="#9a2ad8"/>
<path d="M148.65 308.24 L151.29 303.68 L146.01 303.68Z" fill="#9a2ad8"/>
<path d="M157.90 311.74 L160.54 307.18 L155.26 307.18Z" fill="#9a2ad8"/>
<path d="M167.15 304.74 L169.79 300.18 L164.51 300.18Z" fill="#9a2ad8"/>
<path d="M176.40 304.24 L179.04 299.68 L173.76 299.68Z" fill="#9a2ad8"/>
<path d="M185.65 304.24 L188.29 299.68 L183.01 299.68Z" fill="#9a2ad8"/>
<path d="M194.90 300.24 L197.54 295.68 L192.26 295.68Z" fill="#9a2ad8"/>
<path d="M93.15 307.76 L95.79 312.32 L90.51 312.32Z" fill="#22b02a"/>
<path d="M102.40 310.26 L105.04 314.82 L99.76 314.82Z" fill="#22b02a"/>
<path d="M111.65 308.76 L114.29 313.32 L109.01 313.32Z" fill="#22b02a"/>
<path d="M120.90 310.16 L123.54 314.72 L118.26 314.72Z" fill="#22b02a"/>
<path d="M130.15 308.26 L132.79 312.82 L127.51 312.82Z" fill="#22b02a"/>
<path d="M139.40 314.16 L142.04 318.72 L136.76 318.72Z" fill="#22b02a"/>
<path d="M148.65 323.46 L151.29 328.02 L146.01 328.02Z" fill="#22b02a"/>
<path d="M157.90 337.26 L160.54 341.82 L155.26 341.82Z" fill="#22b02a"/>
<path d="M167.15 358.06 L169.79 362.62 L164.51 362.62Z" fill="#22b02a"/>
<path d="M176.40 367.26 L179.04 371.82 L173.76 371.82Z" fill="#22b02a"/>
<path d="M185.65 371.86 L188.29 376.42 L183.01 376.42Z" fill="#22b02a"/>
<path d="M194.90 371.86 L197.54 376.42 L192.26 376.42Z" fill="#22b02a"/>
<rect x="90.55" y="307.20" width="5.20" height="5.20" fill="#1010e0"/>
<rect x="99.80" y="310.30" width="5.20" height="5.20" fill="#1010e0"/>
<rect x="109.05" y="308.40" width="5.20" height="5.20" fill="#1010e0"/>
<rect x="118.30" y="305.30" width="5.20" height="5.20" fill="#1010e0"/>
<rect x="127.55" y="308.40" width="5.20" height="5.20" fill="#1010e0"/>
<rect x="136.80" y="302.10" width="5.20" height="5.20" fill="#1010e0"/>
<rect x="146.05" y="306.00" width="5.20" height="5.20" fill="#1010e0"/>
<rect x="155.30" y="301.60" width="5.20" height="5.20" fill="#1010e0"/>
<rect x="164.55" y="295.60" width="5.20" height="5.20" fill="#1010e0"/>
<rect x="173.80" y="300.20" width="5.20" height="5.20" fill="#1010e0"/>
<rect x="183.05" y="299.70" width="5.20" height="5.20" fill="#1010e0"/>
<rect x="192.30" y="299.70" width="5.20" height="5.20" fill="#1010e0"/>
<rect x="75.70" y="418.40" width="90.70" height="27.00" fill="none" stroke="#2a2a2a" stroke-width="1.0"/>
<line x1="75.70" y1="432.20" x2="166.40" y2="432.20" stroke="#2a2a2a" stroke-width="1.0" />
<line x1="124.60" y1="418.40" x2="124.60" y2="445.40" stroke="#2a2a2a" stroke-width="1.0" />
<text x="131.80" y="427.30" font-size="9.6" font-weight="normal" text-anchor="start" fill="#1a1a1a" stroke="#1a1a1a" stroke-width="0.25" >POGA</text>
<text x="97.40" y="440.60" font-size="9.6" font-weight="normal" text-anchor="start" fill="#1a1a1a" stroke="#1a1a1a" stroke-width="0.25" >IC<tspan font-size="7.2" dy="2.4">50</tspan></text>
<text x="132.30" y="440.60" font-size="9.6" font-weight="normal" text-anchor="start" fill="#1a1a1a" stroke="#1a1a1a" stroke-width="0.25" >12.97</text>
<line x1="59.50" y1="458.40" x2="76.50" y2="458.40" stroke="#24248c" stroke-width="1.0" />
<rect x="65.25" y="455.65" width="5.50" height="5.50" fill="#1a1ad8"/>
<text x="86.10" y="461.84" font-size="9.55" font-weight="normal" text-anchor="start" fill="#1a1a1a" stroke="#1a1a1a" stroke-width="0.25" >PD-L1/OX40</text>
<line x1="59.50" y1="472.80" x2="76.50" y2="472.80" stroke="#28762d" stroke-width="1.0" />
<path d="M68.00 469.82 L70.87 474.79 L65.13 474.79Z" fill="#22b02a"/>
<text x="86.10" y="476.24" font-size="9.55" font-weight="normal" text-anchor="start" fill="#1a1a1a" stroke="#1a1a1a" stroke-width="0.25" >POGA</text>
<line x1="150.70" y1="457.60" x2="167.70" y2="457.60" stroke="#95652d" stroke-width="1.0" />
<path d="M159.20 454.99 L161.81 457.60 L159.20 460.21 L156.59 457.60Z" fill="#e8902a"/>
<text x="177.60" y="461.00" font-size="9.45" font-weight="normal" text-anchor="start" fill="#1a1a1a" stroke="#1a1a1a" stroke-width="0.25" >Anti-OX40</text>
<line x1="150.70" y1="471.80" x2="167.70" y2="471.80" stroke="#6a2d8c" stroke-width="1.0" />
<path d="M159.20 474.78 L162.07 469.81 L156.33 469.81Z" fill="#9a2ad8"/>
<text x="177.60" y="475.20" font-size="9.45" font-weight="normal" text-anchor="start" fill="#1a1a1a" stroke="#1a1a1a" stroke-width="0.25" >IgG2</text>
<text x="0.00" y="0.00" font-size="13.5" font-weight="bold" text-anchor="start" fill="#111" stroke="#111" stroke-width="0.1" transform="translate(252.5 265.9) scale(1 1.08)">D</text>
<text x="289.50" y="267.20" font-size="9.56" font-weight="bold" text-anchor="start" fill="#111" stroke="#111" stroke-width="0.1" >Blocking of OX40L-mediated activation of OX40</text>
<line x1="322.00" y1="283.00" x2="322.00" y2="387.10" stroke="#111" stroke-width="1.4" />
<line x1="321.40" y1="386.50" x2="476.40" y2="386.50" stroke="#111" stroke-width="1.4" />
<line x1="315.80" y1="283.70" x2="322.00" y2="283.70" stroke="#111" stroke-width="1.3" />
<text x="313.10" y="286.90" font-size="8.9" font-weight="normal" text-anchor="end" fill="#1a1a1a" stroke="#1a1a1a" stroke-width="0.25" >20,000</text>
<line x1="315.80" y1="306.60" x2="322.00" y2="306.60" stroke="#111" stroke-width="1.3" />
<text x="313.10" y="309.80" font-size="8.9" font-weight="normal" text-anchor="end" fill="#1a1a1a" stroke="#1a1a1a" stroke-width="0.25" >16,000</text>
<line x1="315.80" y1="329.50" x2="322.00" y2="329.50" stroke="#111" stroke-width="1.3" />
<text x="313.10" y="332.70" font-size="8.9" font-weight="normal" text-anchor="end" fill="#1a1a1a" stroke="#1a1a1a" stroke-width="0.25" >12,000</text>
<line x1="315.80" y1="352.40" x2="322.00" y2="352.40" stroke="#111" stroke-width="1.3" />
<text x="313.10" y="355.60" font-size="8.9" font-weight="normal" text-anchor="end" fill="#1a1a1a" stroke="#1a1a1a" stroke-width="0.25" >8,000</text>
<line x1="315.80" y1="375.30" x2="322.00" y2="375.30" stroke="#111" stroke-width="1.3" />
<text x="313.10" y="378.50" font-size="8.9" font-weight="normal" text-anchor="end" fill="#1a1a1a" stroke="#1a1a1a" stroke-width="0.25" >4,000</text>
<line x1="334.80" y1="386.50" x2="334.80" y2="393.10" stroke="#111" stroke-width="1.3" />
<text x="335.10" y="404.20" font-size="9.0" font-weight="normal" text-anchor="middle" fill="#1a1a1a" stroke="#1a1a1a" stroke-width="0.25" >−2</text>
<line x1="399.00" y1="386.50" x2="399.00" y2="393.10" stroke="#111" stroke-width="1.3" />
<text x="399.30" y="404.20" font-size="9.0" font-weight="normal" text-anchor="middle" fill="#1a1a1a" stroke="#1a1a1a" stroke-width="0.25" >0</text>
<line x1="463.20" y1="386.50" x2="463.20" y2="393.10" stroke="#111" stroke-width="1.3" />
<text x="463.50" y="404.20" font-size="9.0" font-weight="normal" text-anchor="middle" fill="#1a1a1a" stroke="#1a1a1a" stroke-width="0.25" >2</text>
<text x="402.60" y="413.80" font-size="9.2" font-weight="bold" text-anchor="middle" fill="#111" stroke="#111" stroke-width="0.1" >Log conc.(nmol/L)</text>
<text x="0.00" y="0.00" font-size="9.5" font-weight="bold" text-anchor="middle" fill="#111" stroke="#111" stroke-width="0.1" transform="translate(276.9 334.9) rotate(-90)">Luciferase (RLU)</text>
<path d="M340.50 331.00 L342.54 331.00 L344.59 331.00 L346.63 331.00 L348.67 331.00 L350.71 331.00 L352.76 331.00 L354.80 331.00 L356.84 331.00 L358.88 331.00 L360.93 331.00 L362.97 331.00 L365.01 331.00 L367.05 331.00 L369.10 331.00 L371.14 331.00 L373.18 331.00 L375.23 331.00 L377.27 331.00 L379.31 331.00 L381.35 331.00 L383.40 331.00 L385.44 331.00 L387.48 331.00 L389.52 331.00 L391.57 331.00 L393.61 331.00 L395.65 331.00 L397.69 331.00 L399.74 331.00 L401.78 331.00 L403.82 331.00 L405.87 331.00 L407.91 331.00 L409.95 331.00 L411.99 331.00 L414.04 331.00 L416.08 331.00 L418.12 331.00 L420.16 331.00 L422.21 331.00 L424.25 331.00 L426.29 331.00 L428.33 331.00 L430.38 331.00 L432.42 331.00 L434.46 330.99 L436.51 330.99 L438.55 330.99 L440.59 330.98 L442.63 330.96 L444.68 330.94 L446.72 330.91 L448.76 330.87 L450.80 330.79 L452.85 330.68 L454.89 330.52 L456.93 330.26 L458.97 329.89 L461.02 329.36 L463.06 328.62" stroke="#22b02a" stroke-width="1.2" fill="none" />
<line x1="340.50" y1="331.00" x2="447.74" y2="331.00" stroke="#e8902a" stroke-width="1.2" opacity="0.55"/>
<path d="M340.50 331.25 L342.54 331.26 L344.59 331.27 L346.63 331.29 L348.67 331.32 L350.71 331.35 L352.76 331.38 L354.80 331.43 L356.84 331.49 L358.88 331.57 L360.93 331.67 L362.97 331.79 L365.01 331.94 L367.05 332.13 L369.10 332.37 L371.14 332.66 L373.18 333.02 L375.23 333.47 L377.27 334.02 L379.31 334.68 L381.35 335.47 L383.40 336.41 L385.44 337.51 L387.48 338.77 L389.52 340.19 L391.57 341.76 L393.61 343.46 L395.65 345.24 L397.69 347.06 L399.74 348.88 L401.78 350.64 L403.82 352.30 L405.87 353.83 L407.91 355.21 L409.95 356.43 L411.99 357.48 L414.04 358.37 L416.08 359.13 L418.12 359.75 L420.16 360.27 L422.21 360.69 L424.25 361.03 L426.29 361.31 L428.33 361.53 L430.38 361.71 L432.42 361.85 L434.46 361.96 L436.51 362.05 L438.55 362.13 L440.59 362.18 L442.63 362.23 L444.68 362.26 L446.72 362.29 L448.76 362.31 L450.80 362.33 L452.85 362.35 L454.89 362.36 L456.93 362.37 L458.97 362.37 L461.02 362.38 L463.06 362.38" stroke="#222" stroke-width="1.2" fill="none" />
<path d="M340.50 330.58 L342.54 330.57 L344.59 330.57 L346.63 330.56 L348.67 330.55 L350.71 330.54 L352.76 330.52 L354.80 330.51 L356.84 330.48 L358.88 330.46 L360.93 330.42 L362.97 330.38 L365.01 330.32 L367.05 330.25 L369.10 330.17 L371.14 330.06 L373.18 329.94 L375.23 329.78 L377.27 329.58 L379.31 329.34 L381.35 329.05 L383.40 328.69 L385.44 328.25 L387.48 327.72 L389.52 327.10 L391.57 326.35 L393.61 325.47 L395.65 324.45 L397.69 323.29 L399.74 321.97 L401.78 320.52 L403.82 318.94 L405.87 317.27 L407.91 315.54 L409.95 313.78 L411.99 312.05 L414.04 310.37 L416.08 308.79 L418.12 307.32 L420.16 306.00 L422.21 304.82 L424.25 303.80 L426.29 302.91 L428.33 302.15 L430.38 301.52 L432.42 300.98 L434.46 300.54 L436.51 300.18 L438.55 299.88 L440.59 299.63 L442.63 299.44 L444.68 299.27 L446.72 299.14 L448.76 299.04 L450.80 298.95 L452.85 298.88 L454.89 298.83 L456.93 298.78 L458.97 298.75 L461.02 298.72 L463.06 298.69" stroke="#9a2ad8" stroke-width="1.2" fill="none" />
<path d="M340.50 330.78 L342.54 330.78 L344.59 330.77 L346.63 330.77 L348.67 330.76 L350.71 330.75 L352.76 330.73 L354.80 330.72 L356.84 330.70 L358.88 330.67 L360.93 330.64 L362.97 330.60 L365.01 330.55 L367.05 330.49 L369.10 330.41 L371.14 330.32 L373.18 330.20 L375.23 330.06 L377.27 329.88 L379.31 329.66 L381.35 329.40 L383.40 329.07 L385.44 328.67 L387.48 328.19 L389.52 327.62 L391.57 326.93 L393.61 326.12 L395.65 325.17 L397.69 324.08 L399.74 322.83 L401.78 321.45 L403.82 319.93 L405.87 318.30 L407.91 316.59 L409.95 314.84 L411.99 313.09 L414.04 311.38 L416.08 309.75 L418.12 308.22 L420.16 306.83 L422.21 305.58 L424.25 304.48 L426.29 303.53 L428.33 302.71 L430.38 302.01 L432.42 301.43 L434.46 300.95 L436.51 300.55 L438.55 300.22 L440.59 299.95 L442.63 299.73 L444.68 299.55 L446.72 299.40 L448.76 299.29 L450.80 299.19 L452.85 299.12 L454.89 299.05 L456.93 299.00 L458.97 298.96 L461.02 298.93 L463.06 298.91" stroke="#e8101c" stroke-width="1.2" fill="none" />
<path d="M340.50 326.97 L342.54 326.97 L344.59 326.96 L346.63 326.95 L348.67 326.93 L350.71 326.92 L352.76 326.90 L354.80 326.87 L356.84 326.84 L358.88 326.80 L360.93 326.75 L362.97 326.69 L365.01 326.61 L367.05 326.52 L369.10 326.40 L371.14 326.26 L373.18 326.08 L375.23 325.87 L377.27 325.60 L379.31 325.28 L381.35 324.89 L383.40 324.42 L385.44 323.85 L387.48 323.18 L389.52 322.39 L391.57 321.47 L393.61 320.42 L395.65 319.23 L397.69 317.92 L399.74 316.50 L401.78 314.99 L403.82 313.42 L405.87 311.83 L407.91 310.25 L409.95 308.73 L411.99 307.29 L414.04 305.96 L416.08 304.75 L418.12 303.68 L420.16 302.74 L422.21 301.94 L424.25 301.25 L426.29 300.66 L428.33 300.18 L430.38 299.77 L432.42 299.44 L434.46 299.17 L436.51 298.95 L438.55 298.76 L440.59 298.62 L442.63 298.50 L444.68 298.40 L446.72 298.32 L448.76 298.26 L450.80 298.21 L452.85 298.17 L454.89 298.13 L456.93 298.11 L458.97 298.09 L461.02 298.07 L463.06 298.06" stroke="#1a1ae0" stroke-width="1.2" fill="none" />
<line x1="340.50" y1="325.00" x2="340.50" y2="333.40" stroke="#1a1ae0" stroke-width="0.9" />
<line x1="338.30" y1="325.00" x2="342.70" y2="325.00" stroke="#1a1ae0" stroke-width="0.9" />
<line x1="338.30" y1="333.40" x2="342.70" y2="333.40" stroke="#1a1ae0" stroke-width="0.9" />
<line x1="355.82" y1="322.10" x2="355.82" y2="330.50" stroke="#1a1ae0" stroke-width="0.9" />
<line x1="353.62" y1="322.10" x2="358.02" y2="322.10" stroke="#1a1ae0" stroke-width="0.9" />
<line x1="353.62" y1="330.50" x2="358.02" y2="330.50" stroke="#1a1ae0" stroke-width="0.9" />
<line x1="371.14" y1="321.20" x2="371.14" y2="329.60" stroke="#1a1ae0" stroke-width="0.9" />
<line x1="368.94" y1="321.20" x2="373.34" y2="321.20" stroke="#1a1ae0" stroke-width="0.9" />
<line x1="368.94" y1="329.60" x2="373.34" y2="329.60" stroke="#1a1ae0" stroke-width="0.9" />
<line x1="386.46" y1="317.20" x2="386.46" y2="325.60" stroke="#1a1ae0" stroke-width="0.9" />
<line x1="384.26" y1="317.20" x2="388.66" y2="317.20" stroke="#1a1ae0" stroke-width="0.9" />
<line x1="384.26" y1="325.60" x2="388.66" y2="325.60" stroke="#1a1ae0" stroke-width="0.9" />
<line x1="401.78" y1="314.20" x2="401.78" y2="322.60" stroke="#1a1ae0" stroke-width="0.9" />
<line x1="399.58" y1="314.20" x2="403.98" y2="314.20" stroke="#1a1ae0" stroke-width="0.9" />
<line x1="399.58" y1="322.60" x2="403.98" y2="322.60" stroke="#1a1ae0" stroke-width="0.9" />
<line x1="417.10" y1="302.20" x2="417.10" y2="310.60" stroke="#1a1ae0" stroke-width="0.9" />
<line x1="414.90" y1="302.20" x2="419.30" y2="302.20" stroke="#1a1ae0" stroke-width="0.9" />
<line x1="414.90" y1="310.60" x2="419.30" y2="310.60" stroke="#1a1ae0" stroke-width="0.9" />
<line x1="432.42" y1="292.30" x2="432.42" y2="300.70" stroke="#1a1ae0" stroke-width="0.9" />
<line x1="430.22" y1="292.30" x2="434.62" y2="292.30" stroke="#1a1ae0" stroke-width="0.9" />
<line x1="430.22" y1="300.70" x2="434.62" y2="300.70" stroke="#1a1ae0" stroke-width="0.9" />
<line x1="447.74" y1="295.10" x2="447.74" y2="303.50" stroke="#1a1ae0" stroke-width="0.9" />
<line x1="445.54" y1="295.10" x2="449.94" y2="295.10" stroke="#1a1ae0" stroke-width="0.9" />
<line x1="445.54" y1="303.50" x2="449.94" y2="303.50" stroke="#1a1ae0" stroke-width="0.9" />
<line x1="463.06" y1="294.30" x2="463.06" y2="302.70" stroke="#1a1ae0" stroke-width="0.9" />
<line x1="460.86" y1="294.30" x2="465.26" y2="294.30" stroke="#1a1ae0" stroke-width="0.9" />
<line x1="460.86" y1="302.70" x2="465.26" y2="302.70" stroke="#1a1ae0" stroke-width="0.9" />
<line x1="340.50" y1="328.70" x2="340.50" y2="336.70" stroke="#e8101c" stroke-width="0.9" />
<line x1="338.30" y1="328.70" x2="342.70" y2="328.70" stroke="#e8101c" stroke-width="0.9" />
<line x1="338.30" y1="336.70" x2="342.70" y2="336.70" stroke="#e8101c" stroke-width="0.9" />
<line x1="355.82" y1="327.70" x2="355.82" y2="335.70" stroke="#e8101c" stroke-width="0.9" />
<line x1="353.62" y1="327.70" x2="358.02" y2="327.70" stroke="#e8101c" stroke-width="0.9" />
<line x1="353.62" y1="335.70" x2="358.02" y2="335.70" stroke="#e8101c" stroke-width="0.9" />
<line x1="371.14" y1="327.50" x2="371.14" y2="335.50" stroke="#e8101c" stroke-width="0.9" />
<line x1="368.94" y1="327.50" x2="373.34" y2="327.50" stroke="#e8101c" stroke-width="0.9" />
<line x1="368.94" y1="335.50" x2="373.34" y2="335.50" stroke="#e8101c" stroke-width="0.9" />
<line x1="386.46" y1="322.80" x2="386.46" y2="330.80" stroke="#e8101c" stroke-width="0.9" />
<line x1="384.26" y1="322.80" x2="388.66" y2="322.80" stroke="#e8101c" stroke-width="0.9" />
<line x1="384.26" y1="330.80" x2="388.66" y2="330.80" stroke="#e8101c" stroke-width="0.9" />
<line x1="401.78" y1="318.80" x2="401.78" y2="326.80" stroke="#e8101c" stroke-width="0.9" />
<line x1="399.58" y1="318.80" x2="403.98" y2="318.80" stroke="#e8101c" stroke-width="0.9" />
<line x1="399.58" y1="326.80" x2="403.98" y2="326.80" stroke="#e8101c" stroke-width="0.9" />
<line x1="417.10" y1="307.80" x2="417.10" y2="315.80" stroke="#e8101c" stroke-width="0.9" />
<line x1="414.90" y1="307.80" x2="419.30" y2="307.80" stroke="#e8101c" stroke-width="0.9" />
<line x1="414.90" y1="315.80" x2="419.30" y2="315.80" stroke="#e8101c" stroke-width="0.9" />
<line x1="432.42" y1="294.50" x2="432.42" y2="302.50" stroke="#e8101c" stroke-width="0.9" />
<line x1="430.22" y1="294.50" x2="434.62" y2="294.50" stroke="#e8101c" stroke-width="0.9" />
<line x1="430.22" y1="302.50" x2="434.62" y2="302.50" stroke="#e8101c" stroke-width="0.9" />
<line x1="447.74" y1="295.50" x2="447.74" y2="303.50" stroke="#e8101c" stroke-width="0.9" />
<line x1="445.54" y1="295.50" x2="449.94" y2="295.50" stroke="#e8101c" stroke-width="0.9" />
<line x1="445.54" y1="303.50" x2="449.94" y2="303.50" stroke="#e8101c" stroke-width="0.9" />
<line x1="463.06" y1="295.50" x2="463.06" y2="303.50" stroke="#e8101c" stroke-width="0.9" />
<line x1="460.86" y1="295.50" x2="465.26" y2="295.50" stroke="#e8101c" stroke-width="0.9" />
<line x1="460.86" y1="303.50" x2="465.26" y2="303.50" stroke="#e8101c" stroke-width="0.9" />
<line x1="432.42" y1="324.70" x2="432.42" y2="338.70" stroke="#22b02a" stroke-width="0.9" />
<line x1="430.22" y1="324.70" x2="434.62" y2="324.70" stroke="#22b02a" stroke-width="0.9" />
<line x1="430.22" y1="338.70" x2="434.62" y2="338.70" stroke="#22b02a" stroke-width="0.9" />
<line x1="447.74" y1="324.70" x2="447.74" y2="338.70" stroke="#22b02a" stroke-width="0.9" />
<line x1="445.54" y1="324.70" x2="449.94" y2="324.70" stroke="#22b02a" stroke-width="0.9" />
<line x1="445.54" y1="338.70" x2="449.94" y2="338.70" stroke="#22b02a" stroke-width="0.9" />
<line x1="355.82" y1="326.00" x2="355.82" y2="337.00" stroke="#6a2a8a" stroke-width="0.9" />
<line x1="353.62" y1="326.00" x2="358.02" y2="326.00" stroke="#6a2a8a" stroke-width="0.9" />
<line x1="353.62" y1="337.00" x2="358.02" y2="337.00" stroke="#6a2a8a" stroke-width="0.9" />
<path d="M340.50 329.26 L343.14 333.82 L337.86 333.82Z" fill="#22b02a"/>
<path d="M355.82 329.26 L358.46 333.82 L353.18 333.82Z" fill="#22b02a"/>
<path d="M371.14 329.26 L373.78 333.82 L368.50 333.82Z" fill="#22b02a"/>
<path d="M386.46 329.96 L389.10 334.52 L383.82 334.52Z" fill="#22b02a"/>
<path d="M401.78 329.96 L404.42 334.52 L399.14 334.52Z" fill="#22b02a"/>
<path d="M417.10 327.56 L419.74 332.12 L414.46 332.12Z" fill="#22b02a"/>
<path d="M432.42 328.96 L435.06 333.52 L429.78 333.52Z" fill="#22b02a"/>
<path d="M447.74 328.96 L450.38 333.52 L445.10 333.52Z" fill="#22b02a"/>
<path d="M463.06 322.96 L465.70 327.52 L460.42 327.52Z" fill="#22b02a"/>
<circle cx="340.50" cy="331.50" r="2.60" fill="#111"/>
<circle cx="355.82" cy="331.50" r="2.60" fill="#111"/>
<circle cx="371.14" cy="331.80" r="2.60" fill="#111"/>
<circle cx="386.46" cy="338.70" r="2.60" fill="#111"/>
<circle cx="401.78" cy="350.60" r="2.60" fill="#111"/>
<circle cx="417.10" cy="361.00" r="2.60" fill="#111"/>
<circle cx="432.42" cy="362.20" r="2.60" fill="#111"/>
<circle cx="447.74" cy="364.20" r="2.60" fill="#111"/>
<circle cx="463.06" cy="361.40" r="2.60" fill="#111"/>
<path d="M340.50 334.74 L343.14 330.18 L337.86 330.18Z" fill="#9a2ad8"/>
<path d="M355.82 333.74 L358.46 329.18 L353.18 329.18Z" fill="#9a2ad8"/>
<path d="M371.14 333.74 L373.78 329.18 L368.50 329.18Z" fill="#9a2ad8"/>
<path d="M386.46 328.74 L389.10 324.18 L383.82 324.18Z" fill="#9a2ad8"/>
<path d="M401.78 324.74 L404.42 320.18 L399.14 320.18Z" fill="#9a2ad8"/>
<path d="M417.10 312.24 L419.74 307.68 L414.46 307.68Z" fill="#9a2ad8"/>
<path d="M432.42 300.74 L435.06 296.18 L429.78 296.18Z" fill="#9a2ad8"/>
<path d="M447.74 301.74 L450.38 297.18 L445.10 297.18Z" fill="#9a2ad8"/>
<path d="M463.06 301.74 L465.70 297.18 L460.42 297.18Z" fill="#9a2ad8"/>
<rect x="337.90" y="330.10" width="5.20" height="5.20" fill="#e8101c"/>
<rect x="353.22" y="329.10" width="5.20" height="5.20" fill="#e8101c"/>
<rect x="368.54" y="328.90" width="5.20" height="5.20" fill="#e8101c"/>
<rect x="383.86" y="324.20" width="5.20" height="5.20" fill="#e8101c"/>
<rect x="399.18" y="320.20" width="5.20" height="5.20" fill="#e8101c"/>
<rect x="414.50" y="309.20" width="5.20" height="5.20" fill="#e8101c"/>
<rect x="429.82" y="295.90" width="5.20" height="5.20" fill="#e8101c"/>
<rect x="445.14" y="296.90" width="5.20" height="5.20" fill="#e8101c"/>
<rect x="460.46" y="296.90" width="5.20" height="5.20" fill="#e8101c"/>
<circle cx="340.50" cy="329.20" r="2.70" fill="#1a1ae0"/>
<circle cx="355.82" cy="326.30" r="2.70" fill="#1a1ae0"/>
<circle cx="371.14" cy="325.40" r="2.70" fill="#1a1ae0"/>
<circle cx="386.46" cy="321.40" r="2.70" fill="#1a1ae0"/>
<circle cx="401.78" cy="318.40" r="2.70" fill="#1a1ae0"/>
<circle cx="417.10" cy="306.40" r="2.70" fill="#1a1ae0"/>
<circle cx="432.42" cy="296.50" r="2.70" fill="#1a1ae0"/>
<circle cx="447.74" cy="299.30" r="2.70" fill="#1a1ae0"/>
<circle cx="463.06" cy="298.50" r="2.70" fill="#1a1ae0"/>
<path d="M337.8 361.2 L343.2 361.2 L337.8 369.6 L343.2 369.6 Z" stroke="#d83a8a" stroke-width="1.0" fill="none" />
<rect x="260.80" y="421.30" width="254.60" height="23.70" fill="none" stroke="#2a2a2a" stroke-width="1.0"/>
<line x1="260.80" y1="433.70" x2="515.40" y2="433.70" stroke="#2a2a2a" stroke-width="1.0" />
<line x1="308.70" y1="421.30" x2="308.70" y2="445.00" stroke="#2a2a2a" stroke-width="1.0" />
<line x1="370.70" y1="421.30" x2="370.70" y2="445.00" stroke="#2a2a2a" stroke-width="1.0" />
<line x1="429.20" y1="421.30" x2="429.20" y2="445.00" stroke="#2a2a2a" stroke-width="1.0" />
<line x1="483.10" y1="421.30" x2="483.10" y2="445.00" stroke="#2a2a2a" stroke-width="1.0" />
<text x="316.60" y="429.30" font-size="8.3" font-weight="normal" text-anchor="start" fill="#1a1a1a" stroke="#1a1a1a" stroke-width="0.25" >PD-L1/OX40</text>
<text x="378.40" y="429.30" font-size="8.3" font-weight="normal" text-anchor="start" fill="#1a1a1a" stroke="#1a1a1a" stroke-width="0.25" >Anti-OX40</text>
<text x="433.60" y="429.30" font-size="8.3" font-weight="normal" text-anchor="start" fill="#1a1a1a" stroke="#1a1a1a" stroke-width="0.25" >Anti-PD-L1</text>
<text x="489.00" y="429.30" font-size="8.3" font-weight="normal" text-anchor="start" fill="#1a1a1a" stroke="#1a1a1a" stroke-width="0.25" >Comb</text>
<text x="279.40" y="440.80" font-size="8.3" font-weight="normal" text-anchor="start" fill="#1a1a1a" stroke="#1a1a1a" stroke-width="0.25" >EC<tspan font-size="6.7" dy="2.3">50</tspan></text>
<text x="316.60" y="440.80" font-size="8.3" font-weight="normal" text-anchor="start" fill="#1a1a1a" stroke="#1a1a1a" stroke-width="0.25" >1.993</text>
<text x="378.40" y="440.80" font-size="8.3" font-weight="normal" text-anchor="start" fill="#1a1a1a" stroke="#1a1a1a" stroke-width="0.25" >2.326</text>
<text x="433.60" y="440.80" font-size="8.3" font-weight="normal" text-anchor="start" fill="#1a1a1a" stroke="#1a1a1a" stroke-width="0.25" >~ 156.8</text>
<text x="488.60" y="440.80" font-size="8.3" font-weight="normal" text-anchor="start" fill="#1a1a1a" stroke="#1a1a1a" stroke-width="0.25" >2.199</text>
<line x1="308.10" y1="458.20" x2="324.90" y2="458.20" stroke="#242491" stroke-width="1.0" />
<circle cx="316.50" cy="458.20" r="2.75" fill="#1a1ae0"/>
<text x="335.00" y="461.62" font-size="9.5" font-weight="normal" text-anchor="start" fill="#1a1a1a" stroke="#1a1a1a" stroke-width="0.25" >PD-L1/OX40</text>
<line x1="308.10" y1="471.40" x2="324.90" y2="471.40" stroke="#951e25" stroke-width="1.0" />
<rect x="313.75" y="468.65" width="5.50" height="5.50" fill="#e8101c"/>
<text x="335.00" y="474.82" font-size="9.5" font-weight="normal" text-anchor="start" fill="#1a1a1a" stroke="#1a1a1a" stroke-width="0.25" >Anti-OX40</text>
<line x1="308.10" y1="484.20" x2="324.90" y2="484.20" stroke="#28762d" stroke-width="1.0" />
<path d="M316.50 481.22 L319.37 486.19 L313.63 486.19Z" fill="#22b02a"/>
<text x="335.00" y="487.62" font-size="9.5" font-weight="normal" text-anchor="start" fill="#1a1a1a" stroke="#1a1a1a" stroke-width="0.25" >Anti-PD-L1</text>
<path d="M313.90 493.70 L319.10 498.90 M319.10 493.70 L313.90 498.90" stroke="#b84a8a" stroke-width="1"/>
<text x="335.00" y="500.22" font-size="9.5" font-weight="normal" text-anchor="start" fill="#1a1a1a" stroke="#1a1a1a" stroke-width="0.25" >Without OX40-L</text>
<line x1="422.60" y1="457.00" x2="439.70" y2="457.00" stroke="#95652d" stroke-width="1.0" />
<path d="M431.15 454.39 L433.76 457.00 L431.15 459.61 L428.54 457.00Z" fill="#e8902a"/>
<text x="448.80" y="460.42" font-size="9.5" font-weight="normal" text-anchor="start" fill="#1a1a1a" stroke="#1a1a1a" stroke-width="0.25" >IgG2</text>
<line x1="422.60" y1="469.90" x2="439.70" y2="469.90" stroke="#6a2d8c" stroke-width="1.0" />
<path d="M431.15 472.88 L434.02 467.91 L428.28 467.91Z" fill="#9a2ad8"/>
<text x="448.80" y="473.32" font-size="9.5" font-weight="normal" text-anchor="start" fill="#1a1a1a" stroke="#1a1a1a" stroke-width="0.25" >Comb</text>
<line x1="422.60" y1="483.10" x2="439.70" y2="483.10" stroke="#1f1f1f" stroke-width="1.0" />
<circle cx="431.15" cy="483.10" r="2.75" fill="#111"/>
<text x="448.80" y="486.52" font-size="9.5" font-weight="normal" text-anchor="start" fill="#1a1a1a" stroke="#1a1a1a" stroke-width="0.25" >POGA</text>
</svg>
</body></html>
